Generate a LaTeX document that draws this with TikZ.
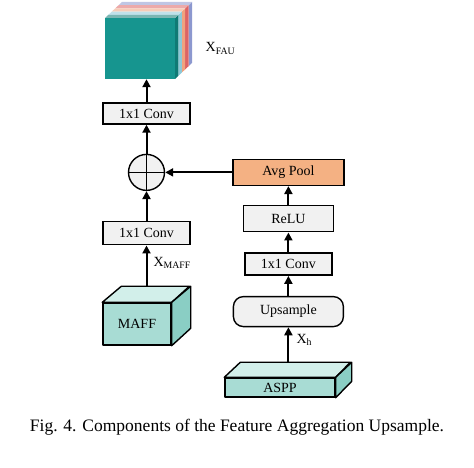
\documentclass[tikz,border=0pt]{standalone}
\usepackage{fontspec}
\setmainfont{Liberation Serif}
\usetikzlibrary{positioning,arrows.meta}

\definecolor{boxgray}{HTML}{F1F1F1}
\definecolor{poolorange}{HTML}{F4B183}
\definecolor{cubefront}{HTML}{A8DCD4}
\definecolor{cubetop}{HTML}{D2EFEA}
\definecolor{cubeside}{HTML}{8ACEC4}
\definecolor{fauteal}{HTML}{16958F}
\definecolor{fauside}{HTML}{0F7A75}
\definecolor{faublue}{HTML}{8CC8D8}
\definecolor{fausalmon}{HTML}{F0A27E}
\definecolor{faured}{HTML}{DD6464}
\definecolor{faulav}{HTML}{8C98CF}

\tikzset{
  opbox/.style = {draw = black, line width = 1.4pt, rectangle, fill = boxgray, minimum width = 87pt, minimum height = 22pt, inner sep = 0pt, font = \fontsize{14}{16}\selectfont},
  flow/.style = {line width = 2pt, -{Triangle[length = 8pt, width = 8pt]}},
  cubeface/.style = {draw = black, line width = 1.4pt, line join = round},
}

\begin{document}
\begin{tikzpicture}[x = 1pt, y = 1pt]
        \useasboundingbox (0,0) rectangle (474,468) ;

        % output feature stack
        \foreach \k/\c in {4/faulav, 3/faured, 2/fausalmon, 1/faublue, 0/fauside} {
          \fill [\c, shift = {(\k*3.4,\k*3.2)}] (175,389) -- (178.4,392.2) -- (178.4,453.2) -- (175,450) -- cycle ;
          \fill [\c!55!white, shift = {(\k*3.4,\k*3.2)}] (105,450) -- (175,450) -- (178.4,453.2) -- (108.4,453.2) -- cycle ;
        }
        \node [fill = fauteal, rectangle, minimum width = 70pt, minimum height = 61pt, inner sep = 0pt] (fau) at (140,419.5) {} ;
        \node [anchor = west, right = 27pt of fau, font = \fontsize{14}{16}\selectfont] (nfau) {X\textsubscript{FAU}} ;

        % left branch
        \node [opbox, minimum height = 21pt] (convtop) at (146.5,354.5) {1x1 Conv} ;
        \node [draw = black, line width = 1.4pt, circle, fill = boxgray, minimum size = 36pt, inner sep = 0pt, below = 29pt of convtop] (plus) {} ;
        \draw [line width = 1.4pt] (plus.north) -- (plus.south) (plus.west) -- (plus.east) ;
        \node [opbox, minimum height = 23pt, below = 30pt of plus] (convleft) {1x1 Conv} ;

        \node [cubeface, fill = cubefront, rectangle, minimum width = 68pt, minimum height = 42pt, font = \fontsize{14}{16}\selectfont] (maff) at (137,144) {MAFF} ;
        \draw [cubeface, fill = cubetop] (maff.north west) -- ++(19,16) -- ++(68,0) -- (maff.north east) -- cycle ;
        \draw [cubeface, fill = cubeside] (maff.north east) -- ++(19,16) -- ++(0,-42) -- (maff.south east) -- cycle ;
        \coordinate (maffback) at ([yshift = 16pt]maff.north) ;
        \node [anchor = west, font = \fontsize{14}{16}\selectfont] (nmaff) at (150,205) {X\textsubscript{MAFF}} ;

        % right branch
        \node [opbox, fill = poolorange, minimum width = 111pt, minimum height = 26pt, right = 67pt of plus] (pool) {Avg Pool} ;
        \node [opbox, minimum width = 90pt, minimum height = 26pt, below = 19pt of pool] (relu) {ReLU} ;
        \node [opbox, below = 20pt of relu] (convright) {1x1 Conv} ;
        \node [opbox, rounded corners = 10pt, minimum width = 110pt, minimum height = 30pt, below = 20pt of convright] (upsample) {Upsample} ;

        \node [cubeface, fill = cubefront, rectangle, minimum width = 110pt, minimum height = 19pt, inner sep = 0pt, font = \fontsize{14}{16}\selectfont] (aspp) at (280,80.5) {ASPP} ;
        \draw [cubeface, fill = cubetop] (aspp.north west) -- ++(16,15) -- ++(110,0) -- (aspp.north east) -- cycle ;
        \draw [cubeface, fill = cubeside] (aspp.north east) -- ++(16,15) -- ++(0,-19) -- (aspp.south east) -- cycle ;
        \coordinate (asppback) at ([yshift = 15pt]aspp.north) ;
        \node [anchor = west, font = \fontsize{14}{16}\selectfont] (nh) at (293,128) {X\textsubscript{h}} ;

        % connectors
        \draw [flow] (convtop) -- (convtop.north |- fau.south) ;
        \draw [flow] (plus) -- (convtop) ;
        \draw [flow] (convleft) -- (plus) ;
        \draw [flow] (convleft.south |- maffback) -- (convleft) ;
        \draw [flow] (pool) -- (plus) ;
        \draw [flow] (relu) -- (pool) ;
        \draw [flow] (convright) -- (relu) ;
        \draw [flow] (upsample) -- (convright) ;
        \draw [flow] (upsample.south |- asppback) -- (upsample) ;

        \node [font = \fontsize{17.5}{20}\selectfont] (caption) at (237,41) {Fig. 4. Components of the Feature Aggregation Upsample.} ;
\end{tikzpicture}
\end{document}
